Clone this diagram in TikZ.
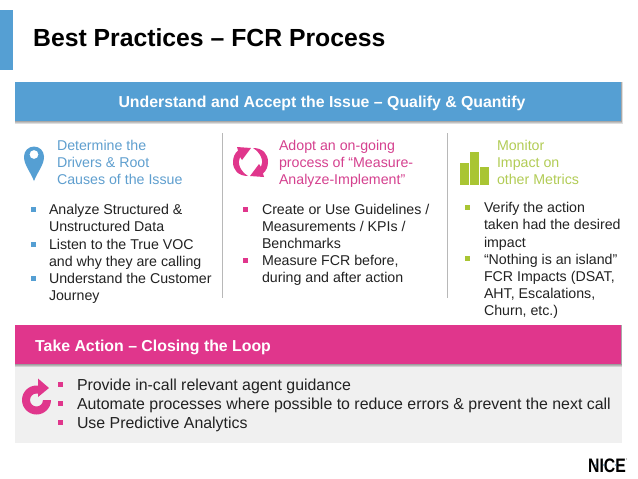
\documentclass[tikz,border=0pt]{standalone}
\usepackage{fontspec}
\setmainfont{Liberation Sans}
\definecolor{nblue}{HTML}{559FD3}
\definecolor{npink}{HTML}{E0368C}
\definecolor{ngreen}{HTML}{A9C533}
\definecolor{tblue}{HTML}{5F9FCF}
\definecolor{tpink}{HTML}{D5418F}
\definecolor{tgreen}{HTML}{B2CC55}
\definecolor{ntext}{HTML}{222222}
\tikzset{
  txt/.style={anchor=base west,inner sep=0pt,outer sep=0pt,font=\fontsize{14.2}{17}\selectfont,text=ntext},
  btxt/.style={txt,font=\fontsize{15.9}{19}\selectfont},
  hdr/.style={inner sep=0pt,font=\bfseries\fontsize{15.85}{18}\selectfont,text=white},
  shadowbar/.style={fill=black,opacity=.13,draw=none},
  divline/.style={draw=black!28,line width=.8pt}
}
\newcommand{\bsq}[3]{\fill[#1] (#2-2.5,#3-2.5) rectangle (#2+2.5,#3+2.5);}
\begin{document}
\begin{tikzpicture}[x=1pt,y=-1pt]
\useasboundingbox (0,0) rectangle (638,479);
\fill[white] (0,0) rectangle (638,479);
% title
\fill[nblue] (0,10) rectangle (12.5,70);
\node[anchor=base west,inner sep=0pt,font=\bfseries\fontsize{24.75}{28}\selectfont] (title) at (33,46.5) {Best Practices – FCR Process};
% top bar
\fill[shadowbar] (15,82) rectangle (622.5,124);
\fill[shadowbar] (15,82) rectangle (622,123);
\fill[shadowbar] (15,82) rectangle (621.5,122);
\fill[nblue] (14.5,82) rectangle (621,121);
\node[hdr,anchor=base] (h1) at (322,107) {Understand and Accept the Issue – Qualify \& Quantify};
% dividers
\draw[divline] (222.5,133) -- (222.5,298);
\draw[divline] (447.5,133) -- (447.5,298);
% pin
\fill[nblue,even odd rule] (34,181) .. controls (30,171) and (24,165) .. (24,156.5) arc[start angle=180,end angle=360,radius=10] .. controls (44,165) and (38,171) .. (34,181) -- cycle (38.5,154.5) arc[start angle=0,end angle=360,radius=4.5];
% sync
\fill[npink] (237,147) -- (251,148) -- (242,160) -- (240,157) .. controls (237,163) and (240,171) .. (248,176) .. controls (238,176) and (233,170) .. (233,162) .. controls (233,157) and (235,153) .. (238,150.5) -- cycle;
\fill[npink] (264,177) -- (250,176) -- (259,164) -- (261,167) .. controls (264,161) and (261,153) .. (253,148) .. controls (263,148) and (268,154) .. (268,162) .. controls (268,167) and (266,171) .. (263,173.5) -- cycle;
% chart
\fill[ngreen] (460,163) rectangle (469,185);
\fill[ngreen] (470,152) rectangle (479,185);
\fill[ngreen] (480,167) rectangle (488.7,185);
% column heads
\node[txt,text=tblue] (a1) at (57,150) {Determine the};
\node[txt,text=tblue] (a2) at (57,167) {Drivers \& Root};
\node[txt,text=tblue] (a3) at (57,184) {Causes of the Issue};
\node[txt,text=tpink] (b1) at (279,150) {Adopt an on-going};
\node[txt,text=tpink] (b2) at (279,167) {process of “Measure-};
\node[txt,text=tpink] (b3) at (279,184) {Analyze-Implement”};
\node[txt,text=tgreen] (c1) at (497,150) {Monitor};
\node[txt,text=tgreen] (c2) at (497,167) {Impact on};
\node[txt,text=tgreen] (c3) at (497,184) {other Metrics};
% col 1
\bsq{nblue}{33}{209}\bsq{nblue}{33}{244}\bsq{nblue}{33}{278}
\node[txt] (d1) at (49,214) {Analyze Structured \&};
\node[txt] (d2) at (49,231) {Unstructured Data};
\node[txt] (d3) at (49,249) {Listen to the True VOC};
\node[txt] (d4) at (49,266) {and why they are calling};
\node[txt] (d5) at (49,283) {Understand the Customer};
\node[txt] (d6) at (49,300) {Journey};
% col 2
\bsq{npink}{245.5}{209}\bsq{npink}{245.5}{260}
\node[txt] (e1) at (262,214) {Create or Use Guidelines /};
\node[txt] (e2) at (262,231) {Measurements / KPIs /};
\node[txt] (e3) at (262,248) {Benchmarks};
\node[txt] (e4) at (262,265) {Measure FCR before,};
\node[txt] (e5) at (262,282) {during and after action};
% col 3
\bsq{ngreen}{467.5}{207}\bsq{ngreen}{467.5}{258}
\node[txt] (f1) at (484,212.7) {Verify the action};
\node[txt] (f2) at (484,229.7) {taken had the desired};
\node[txt] (f3) at (484,247) {impact};
\node[txt] (f4) at (484,264) {“Nothing is an island”};
\node[txt] (f5) at (484,281) {FCR Impacts (DSAT,};
\node[txt] (f6) at (484,298) {AHT, Escalations,};
\node[txt] (f7) at (484,315) {Churn, etc.)};
% bottom panel
\fill[black!6] (14.5,364) rectangle (622,443);
\fill[shadowbar] (15,325) rectangle (622,367);
\fill[shadowbar] (15,325) rectangle (621.5,366);
\fill[shadowbar] (15,325) rectangle (621.5,365);
\fill[npink] (14.5,325) rectangle (621,364);
\node[hdr,anchor=base west] (h2) at (35,351) {Take Action – Closing the Loop};
% redo icon
\fill[npink] (36.5,385.5) arc[start angle=270,end angle=0,radius=14.5] -- (43,400) arc[start angle=0,end angle=270,radius=6.5] -- (38,393.5) -- (38,397) -- (49,388) -- (38,378.5) -- (38,385.5) -- cycle;
\bsq{npink}{60.5}{384}\bsq{npink}{60.5}{403}\bsq{npink}{60.5}{422}
\node[btxt] (g1) at (77,390) {Provide in-call relevant agent guidance};
\node[btxt] (g2) at (77,409) {Automate processes where possible to reduce errors \& prevent the next call};
\node[btxt] (g3) at (77,428) {Use Predictive Analytics};
% logo
\node[anchor=base west,inner sep=0pt,font=\bfseries\fontsize{19.5}{20}\selectfont] (logo) at (588,472) {\scalebox{0.81}[1]{NICE}};
\fill[nblue!70!black] (596,465) circle (.9);
\fill[nblue!70!black] (604,465) circle (.9);
\fill[nblue!70!black] (616,465) circle (.9);
\fill[black!50] (626.5,459) circle (.6);
\end{tikzpicture}
\end{document}
